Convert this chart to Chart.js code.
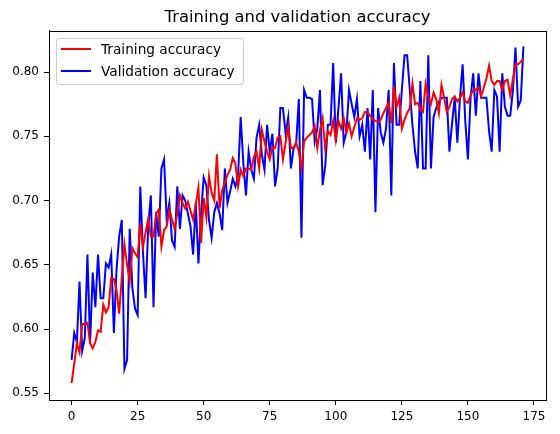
<!DOCTYPE html>
<html>
<head>
<meta charset="utf-8">
<script src="https://cdn.jsdelivr.net/npm/chart.js@4/dist/chart.umd.min.js"></script>
<style>
  html, body { margin: 0; padding: 0; background: #fff; }
  #wrap { position: relative; width: 560px; height: 434px; }
  #legend {
    position: absolute; left: 56px; top: 38px; width: 188px; height: 47px; box-sizing: border-box;
    border: 1px solid #cccccc; border-radius: 3px; background: rgba(255,255,255,0.8);
    font: 13.7px "DejaVu Sans", sans-serif; color: #000;
  }
  .swatch { position: absolute; left: 4px; width: 30px; height: 0; }
  .lbl { position: absolute; left: 44px; line-height: 16px; white-space: nowrap; }
</style>
</head>
<body>
<div id="wrap">
  <canvas id="accChart" width="560" height="434"></canvas>
  <div id="legend"></div>
</div>
<script>
const trainAcc = [
  0.558, 0.573, 0.589, 0.582, 0.604, 0.604, 0.605, 0.589, 0.585, 0.590,
  0.599, 0.598, 0.619, 0.613, 0.617, 0.640, 0.639, 0.630, 0.612, 0.640,
  0.666, 0.650, 0.637, 0.663, 0.659, 0.656, 0.682, 0.664, 0.675, 0.686,
  0.672, 0.672, 0.690, 0.693, 0.664, 0.677, 0.680, 0.693, 0.685, 0.678,
  0.690, 0.704, 0.698, 0.694, 0.699, 0.692, 0.685, 0.697, 0.710, 0.667,
  0.702, 0.687, 0.719, 0.706, 0.700, 0.736, 0.694, 0.708, 0.714, 0.720,
  0.724, 0.733, 0.729, 0.711, 0.724, 0.719, 0.725, 0.725, 0.724, 0.734,
  0.738, 0.725, 0.755, 0.746, 0.738, 0.732, 0.742, 0.741, 0.749, 0.750,
  0.732, 0.745, 0.758, 0.741, 0.741, 0.745, 0.738, 0.725, 0.746, 0.749,
  0.751, 0.753, 0.758, 0.741, 0.755, 0.764, 0.740, 0.754, 0.751, 0.762,
  0.747, 0.762, 0.756, 0.764, 0.753, 0.760, 0.750, 0.757, 0.764, 0.763,
  0.764, 0.769, 0.769, 0.766, 0.763, 0.762, 0.761, 0.763, 0.768, 0.772,
  0.776, 0.760, 0.789, 0.773, 0.780, 0.756, 0.763, 0.768, 0.772, 0.791,
  0.775, 0.776, 0.771, 0.769, 0.791, 0.781, 0.775, 0.784, 0.779, 0.768,
  0.790, 0.780, 0.769, 0.773, 0.779, 0.781, 0.777, 0.780, 0.784, 0.777,
  0.776, 0.782, 0.786, 0.786, 0.788, 0.781, 0.788, 0.795, 0.805, 0.793,
  0.790, 0.793, 0.793, 0.786, 0.793, 0.794, 0.782, 0.794, 0.806, 0.806,
  0.808, 0.810
];
const valAcc = [
  0.576, 0.597, 0.590, 0.637, 0.583, 0.593, 0.658, 0.589, 0.644, 0.617,
  0.658, 0.624, 0.624, 0.651, 0.648, 0.658, 0.597, 0.646, 0.672, 0.685,
  0.569, 0.576, 0.678, 0.632, 0.616, 0.611, 0.711, 0.660, 0.624, 0.680,
  0.704, 0.617, 0.691, 0.672, 0.725, 0.732, 0.685, 0.698, 0.669, 0.664,
  0.711, 0.678, 0.704, 0.700, 0.690, 0.680, 0.658, 0.698, 0.651, 0.690,
  0.718, 0.712, 0.685, 0.671, 0.691, 0.698, 0.690, 0.677, 0.725, 0.698,
  0.707, 0.717, 0.711, 0.719, 0.765, 0.729, 0.704, 0.738, 0.724, 0.717,
  0.749, 0.759, 0.736, 0.724, 0.759, 0.738, 0.752, 0.711, 0.725, 0.772,
  0.772, 0.752, 0.765, 0.725, 0.740, 0.745, 0.779, 0.671, 0.786, 0.780,
  0.780, 0.779, 0.746, 0.756, 0.786, 0.712, 0.727, 0.759, 0.759, 0.807,
  0.745, 0.772, 0.799, 0.745, 0.753, 0.786, 0.775, 0.765, 0.779, 0.750,
  0.759, 0.738, 0.772, 0.732, 0.786, 0.691, 0.772, 0.753, 0.745, 0.756,
  0.786, 0.704, 0.807, 0.759, 0.759, 0.786, 0.813, 0.813, 0.786, 0.759,
  0.738, 0.725, 0.793, 0.725, 0.725, 0.813, 0.725, 0.765, 0.772, 0.777,
  0.780, 0.780, 0.780, 0.738, 0.760, 0.780, 0.745, 0.780, 0.806, 0.762,
  0.732, 0.780, 0.799, 0.766, 0.799, 0.780, 0.780, 0.780, 0.754, 0.738,
  0.786, 0.781, 0.738, 0.799, 0.773, 0.766, 0.766, 0.785, 0.819, 0.773,
  0.778, 0.820
];
const epochs = trainAcc.map((_, i) => i);
const xTicks = [0, 25, 50, 75, 100, 125, 150, 175];
const yTicks = [0.55, 0.60, 0.65, 0.70, 0.75, 0.80];

const FONT = '"DejaVu Sans", sans-serif';

// box round the plot, like matplotlib's spines
const frame = {
  id: 'frame',
  afterDraw(chart) {
    const { ctx, chartArea: a } = chart;
    const l = Math.round(a.left) + 0.5, t = Math.round(a.top) + 0.5;
    const r = Math.round(a.right) + 0.5, b = Math.round(a.bottom) + 0.5;
    ctx.save();
    ctx.strokeStyle = '#000';
    ctx.lineWidth = 1;
    ctx.strokeRect(l, t, r - l, b - t);
    ctx.restore();
  }
};

const chart = new Chart(document.getElementById('accChart'), {
  type: 'line',
  data: {
    datasets: [
      {
        label: 'Training accuracy',
        data: epochs.map(e => ({ x: e, y: trainAcc[e] })),
        borderColor: '#ff0000',
        borderWidth: 2,
        pointRadius: 0,
        tension: 0,
        fill: false
      },
      {
        label: 'Validation accuracy',
        data: epochs.map(e => ({ x: e, y: valAcc[e] })),
        borderColor: '#0000ff',
        borderWidth: 2,
        pointRadius: 0,
        tension: 0,
        fill: false
      }
    ]
  },
  options: {
    responsive: false,
    animation: false,
    layout: { padding: { left: 0, right: 14, top: 0, bottom: 0 } },
    plugins: {
      legend: { display: false },
      tooltip: { enabled: false },
      title: {
        display: true,
        fullSize: false,
        text: 'Training and validation accuracy',
        color: '#000',
        font: { family: FONT, size: 16.4, weight: 'normal', lineHeight: 1.2 },
        padding: { top: 7.5, bottom: 3.5 }
      }
    },
    scales: {
      x: {
        type: 'linear',
        min: -8.55,
        max: 179.55,
        afterBuildTicks: s => { s.ticks = xTicks.map(v => ({ value: v })); },
        afterFit: s => { s.height = 34; },
        ticks: { color: '#000', font: { family: FONT, size: 12 }, padding: 5, maxRotation: 0, autoSkip: false },
        grid: { display: true, drawOnChartArea: false, drawTicks: true, tickLength: 5, color: '#000' },
        border: { display: true, color: '#000', width: 1 }
      },
      y: {
        type: 'linear',
        min: 0.5448,
        max: 0.8322,
        afterBuildTicks: s => { s.ticks = yTicks.map(v => ({ value: v })); },
        afterFit: s => { s.width = 49; },
        ticks: { color: '#000', font: { family: FONT, size: 12 }, padding: 5, autoSkip: false,
                 callback: v => v.toFixed(2) },
        grid: { display: true, drawOnChartArea: false, drawTicks: true, tickLength: 5, color: '#000' },
        border: { display: true, color: '#000', width: 1 }
      }
    }
  },
  plugins: [frame]
});

// legend inside the plot, upper left
const legend = document.getElementById('legend');
chart.data.datasets.forEach((ds, i) => {
  const cy = 10 + i * 21.7;
  const sw = document.createElement('div');
  sw.className = 'swatch';
  sw.style.top = (cy - 1) + 'px';
  sw.style.borderTop = '2px solid ' + ds.borderColor;
  const lb = document.createElement('div');
  lb.className = 'lbl';
  lb.style.top = (cy - 8) + 'px';
  lb.textContent = ds.label;
  legend.appendChild(sw);
  legend.appendChild(lb);
});
</script>
</body>
</html>
